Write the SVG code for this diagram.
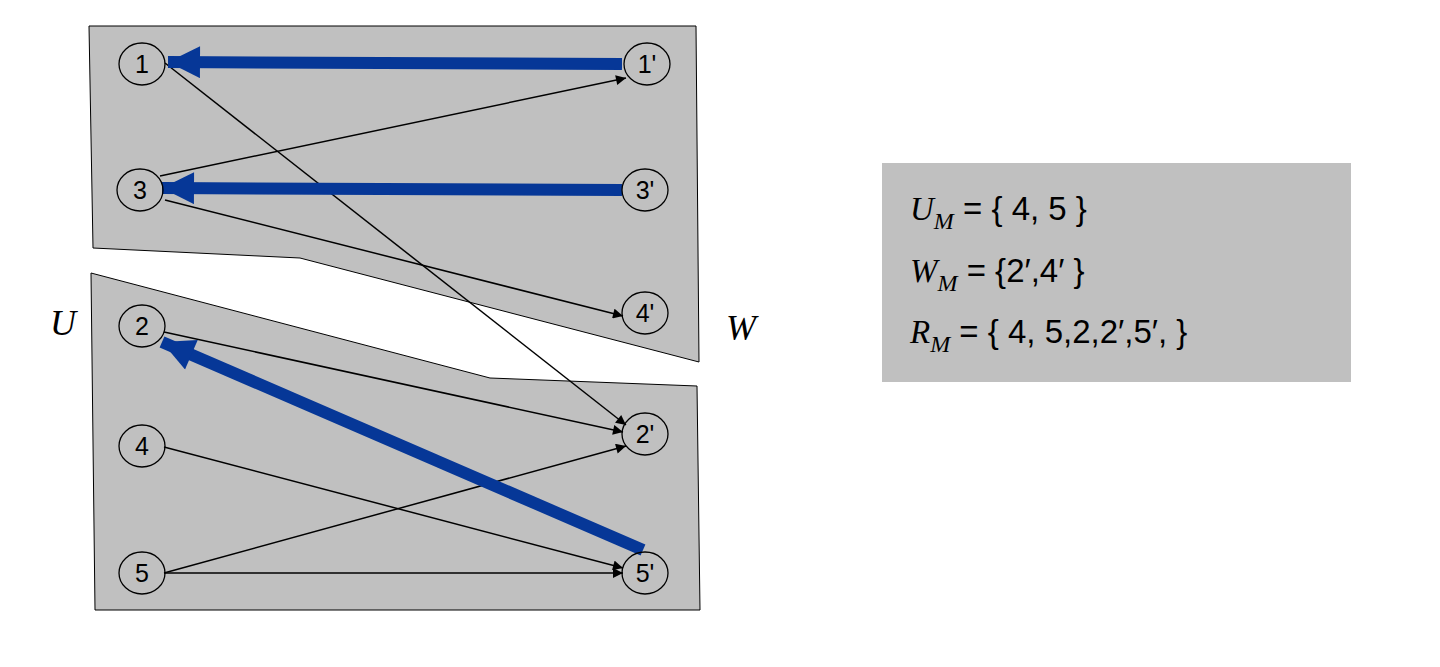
<svg xmlns="http://www.w3.org/2000/svg" width="1440" height="667" viewBox="0 0 1440 667">
<style>
.n ellipse{fill:none;stroke:#000;stroke-width:1.3}
.n text{font-family:"Liberation Sans",sans-serif;font-size:25px;text-anchor:middle}
.e{stroke:#000;stroke-width:1.5;fill:none;marker-end:url(#a)}
.b{stroke:#063797;stroke-width:12;fill:none;marker-end:url(#b)}
.m{font-family:"Liberation Sans",sans-serif;font-size:33px}
.i{font-family:"Liberation Serif",serif;font-style:italic}
</style>
<defs>
<marker id="a" viewBox="0 0 10 10" refX="10" refY="5" markerWidth="12" markerHeight="10" markerUnits="userSpaceOnUse" orient="auto"><path d="M0,0L10,5L0,10z"/></marker>
<marker id="b" viewBox="0 0 10 10" refX="10" refY="5" markerWidth="40" markerHeight="32" markerUnits="userSpaceOnUse" orient="auto"><path d="M0,0L10,5L0,10z" fill="#063797"/></marker>
</defs>
<rect width="1440" height="667" fill="#fff"/>
<g id="regions" fill="#c0c0c0" stroke="#000" stroke-width="1">
<path d="M89,26L696,26L699,362L300,258L93,248Z"/>
<path d="M91,273L490,378L697,386L700,610L95,610Z"/>
</g>
<g id="connectors">
<line class="e" x1="165" y1="63" x2="626" y2="425"/>
<line class="e" x1="160" y1="176" x2="626" y2="78"/>
<line class="e" x1="165" y1="200" x2="623" y2="316"/>
<line class="e" x1="164" y1="332" x2="623" y2="432"/>
<line class="e" x1="164" y1="447" x2="623" y2="568"/>
<line class="e" x1="164" y1="573" x2="626" y2="446"/>
<line class="e" x1="164" y1="573" x2="623" y2="573"/>
<line class="b" x1="622" y1="64" x2="168" y2="62"/>
<line class="b" x1="622" y1="190" x2="162" y2="188"/>
<line class="b" x1="643" y1="550" x2="162" y2="342"/>
</g>
<g id="n1" class="n"><ellipse cx="142" cy="64" rx="23" ry="21"/><text x="142" y="73">1</text></g>
<g id="n3" class="n"><ellipse cx="140" cy="190" rx="23" ry="21"/><text x="140" y="199">3</text></g>
<g id="n2" class="n"><ellipse cx="142" cy="326" rx="23" ry="21"/><text x="142" y="335">2</text></g>
<g id="n4" class="n"><ellipse cx="142" cy="446" rx="23" ry="21"/><text x="142" y="455">4</text></g>
<g id="n5" class="n"><ellipse cx="142" cy="573" rx="23" ry="21"/><text x="142" y="582">5</text></g>
<g id="n1p" class="n"><ellipse cx="647" cy="64" rx="23" ry="21"/><text x="647" y="73">1'</text></g>
<g id="n3p" class="n"><ellipse cx="645" cy="190" rx="23" ry="21"/><text x="645" y="199">3'</text></g>
<g id="n4p" class="n"><ellipse cx="645" cy="313" rx="23" ry="21"/><text x="645" y="322">4'</text></g>
<g id="n2p" class="n"><ellipse cx="645" cy="434" rx="23" ry="21"/><text x="645" y="443">2'</text></g>
<g id="n5p" class="n"><ellipse cx="645" cy="573" rx="23" ry="21"/><text x="645" y="582">5'</text></g>
<text class="i" x="50" y="335" font-size="36">U</text>
<text class="i" x="726" y="340" font-size="36">W</text>
<g id="box">
<rect x="882" y="163" width="469" height="219" fill="#c0c0c0"/>
<text class="m" x="910" y="220"><tspan class="i">U</tspan><tspan class="i" font-size="24" dy="9">M</tspan><tspan dy="-9"> = { 4, 5 }</tspan></text>
<text class="m" x="910" y="282"><tspan class="i">W</tspan><tspan class="i" font-size="24" dy="9">M</tspan><tspan dy="-9"> = {2′,4′ }</tspan></text>
<text class="m" x="910" y="343"><tspan class="i">R</tspan><tspan class="i" font-size="24" dy="9">M</tspan><tspan dy="-9"> = { 4, 5,2,2′,5′, }</tspan></text>
</g>
</svg>
